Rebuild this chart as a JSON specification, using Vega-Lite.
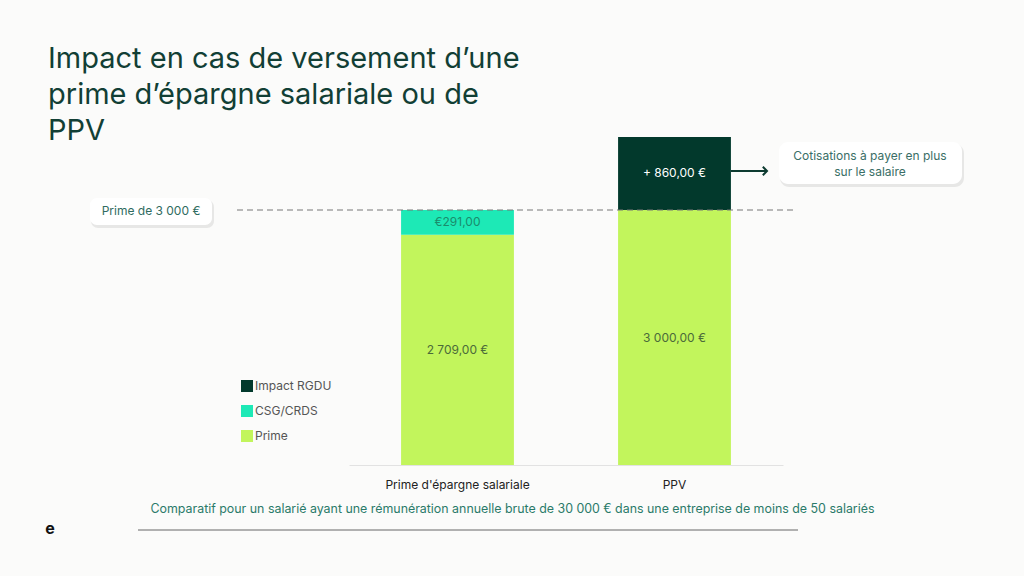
{
  "$schema": "https://vega.github.io/schema/vega-lite/v6.json",
  "width": 1024,
  "height": 335,
  "autosize": {"type": "none"},
  "padding": {"left": 0, "right": 0, "top": 130, "bottom": 111},
  "background": "#fbfbfa",
  "config": {
    "view": {"stroke": null},
    "font": "Inter",
    "legend": {"padding": 0}
  },
  "datasets": {
    "bars": [
      {"categorie": "Prime d'épargne salariale", "composante": "Prime", "ordre": 1, "montant": 2709, "label": "2 709,00 €"},
      {"categorie": "Prime d'épargne salariale", "composante": "CSG/CRDS", "ordre": 2, "montant": 291, "label": "€291,00"},
      {"categorie": "PPV", "composante": "Prime", "ordre": 1, "montant": 3000, "label": "3 000,00 €"},
      {"categorie": "PPV", "composante": "Impact RGDU", "ordre": 2, "montant": 860, "label": "+ 860,00 €"}
    ]
  },
  "layer": [
    {
      "data": {"values": [{}]},
      "mark": {"type": "text", "align": "left", "baseline": "alphabetic", "fontSize": 29, "lineHeight": 36, "color": "#123f35", "font": "Inter"},
      "encoding": {
        "x": {"value": 48},
        "y": {"value": -62},
        "text": {"value": ["Impact en cas de versement d’une", "prime d’épargne salariale ou de", "PPV"]}
      }
    },
    {
      "data": {"name": "bars"},
      "mark": {"type": "bar"},
      "encoding": {
        "x": {
          "field": "categorie", "type": "nominal", "sort": ["Prime d'épargne salariale", "PPV"],
          "scale": {"range": [349, 783], "paddingInner": 0.48, "paddingOuter": 0.24},
          "axis": {
            "title": "Comparatif pour un salarié ayant une rémunération annuelle brute de 30 000 € dans une entreprise de moins de 50 salariés",
            "titleX": 512, "titleY": 43, "titleAlign": "center", "titleBaseline": "middle", "titleAnchor": null,
            "titleFontSize": 12.4, "titleFontWeight": "normal", "titleColor": "#2a7a69", "titleFont": "Inter",
            "labelAngle": 0, "labelFontSize": 12, "labelColor": "#222222", "labelFont": "Inter", "labelPadding": 14,
            "ticks": false, "domainColor": "#e2e2e2", "domainWidth": 1, "grid": false
          }
        },
        "y": {
          "field": "montant", "type": "quantitative", "stack": "zero",
          "scale": {"domain": [0, 3941.18], "nice": false, "zero": true},
          "axis": null
        },
        "order": {"field": "ordre", "type": "quantitative"},
        "color": {
          "field": "composante", "type": "nominal",
          "scale": {"domain": ["Impact RGDU", "CSG/CRDS", "Prime"], "range": ["#02392c", "#1de9b6", "#c2f55c"]},
          "legend": {
            "orient": "none", "legendX": 241, "legendY": 250, "title": null,
            "symbolType": "square", "symbolSize": 144, "symbolStrokeWidth": 0, "symbolOpacity": 1,
            "labelFontSize": 12, "labelColor": "#555555", "labelFont": "Inter", "labelOffset": 2,
            "rowPadding": 13
          }
        }
      }
    },
    {
      "data": {"name": "bars"},
      "transform": [
        {"stack": "montant", "groupby": ["categorie"], "sort": [{"field": "ordre"}], "as": ["y0", "y1"]},
        {"calculate": "(datum.y0 + datum.y1) / 2", "as": "mid"}
      ],
      "mark": {"type": "text", "fontSize": 12, "font": "Inter", "baseline": "middle"},
      "encoding": {
        "x": {"field": "categorie", "type": "nominal", "sort": ["Prime d'épargne salariale", "PPV"]},
        "y": {"field": "mid", "type": "quantitative"},
        "text": {"field": "label"},
        "color": {
          "condition": [
            {"test": "datum.composante === 'Impact RGDU'", "value": "#ffffff"},
            {"test": "datum.composante === 'CSG/CRDS'", "value": "#1b8c6c"}
          ],
          "value": "#4b6a3a"
        }
      }
    },
    {
      "data": {"values": [{}]},
      "mark": {"type": "rule", "strokeDash": [6, 4], "color": "#777777", "strokeWidth": 1},
      "encoding": {
        "x": {"value": 237},
        "x2": {"value": 795},
        "y": {"datum": 3000, "type": "quantitative"}
      }
    },
    {
      "data": {"values": [{}]},
      "mark": {"type": "rect", "cornerRadius": 7, "color": "#000000", "opacity": 0.08},
      "encoding": {"x": {"value": 91}, "x2": {"value": 214}, "y": {"value": 70}, "y2": {"value": 98}}
    },
    {
      "data": {"values": [{}]},
      "mark": {"type": "rect", "cornerRadius": 7, "color": "#ffffff"},
      "encoding": {"x": {"value": 90}, "x2": {"value": 212}, "y": {"value": 68}, "y2": {"value": 95}}
    },
    {
      "data": {"values": [{}]},
      "mark": {"type": "text", "fontSize": 12, "font": "Inter", "color": "#2f6b60", "align": "center", "baseline": "middle"},
      "encoding": {"x": {"value": 151}, "y": {"value": 81}, "text": {"value": "Prime de 3 000 €"}}
    },
    {
      "data": {"values": [{}]},
      "mark": {"type": "rect", "cornerRadius": 9, "color": "#000000", "opacity": 0.08},
      "encoding": {"x": {"value": 780}, "x2": {"value": 964}, "y": {"value": 14}, "y2": {"value": 57}}
    },
    {
      "data": {"values": [{}]},
      "mark": {"type": "rect", "cornerRadius": 9, "color": "#ffffff"},
      "encoding": {"x": {"value": 779}, "x2": {"value": 962}, "y": {"value": 12}, "y2": {"value": 54}}
    },
    {
      "data": {"values": [{}]},
      "mark": {"type": "text", "fontSize": 12, "font": "Inter", "color": "#3a6e66", "align": "center", "baseline": "middle", "lineHeight": 16},
      "encoding": {"x": {"value": 870}, "y": {"value": 26}, "text": {"value": ["Cotisations à payer en plus", "sur le salaire"]}}
    },
    {
      "data": {"values": [{}]},
      "mark": {"type": "rule", "color": "#0d3b30", "strokeWidth": 2},
      "encoding": {"x": {"value": 731}, "x2": {"value": 766}, "y": {"value": 41}}
    },
    {
      "data": {"values": [{}]},
      "mark": {"type": "point", "shape": "M-1,-1L0,0L-1,1", "filled": false, "color": "#0d3b30", "strokeWidth": 2, "size": 70, "opacity": 1},
      "encoding": {"x": {"value": 767}, "y": {"value": 41}}
    },
    {
      "data": {"values": [{}]},
      "mark": {"type": "rule", "color": "#666666", "strokeWidth": 1},
      "encoding": {"x": {"value": 138}, "x2": {"value": 798}, "y": {"value": 400}}
    },
    {
      "data": {"values": [{}]},
      "mark": {"type": "text", "fontSize": 16, "fontWeight": "bold", "font": "Inter", "color": "#111111", "align": "center", "baseline": "alphabetic"},
      "encoding": {"x": {"value": 50}, "y": {"value": 404}, "text": {"value": "e"}}
    }
  ]
}
